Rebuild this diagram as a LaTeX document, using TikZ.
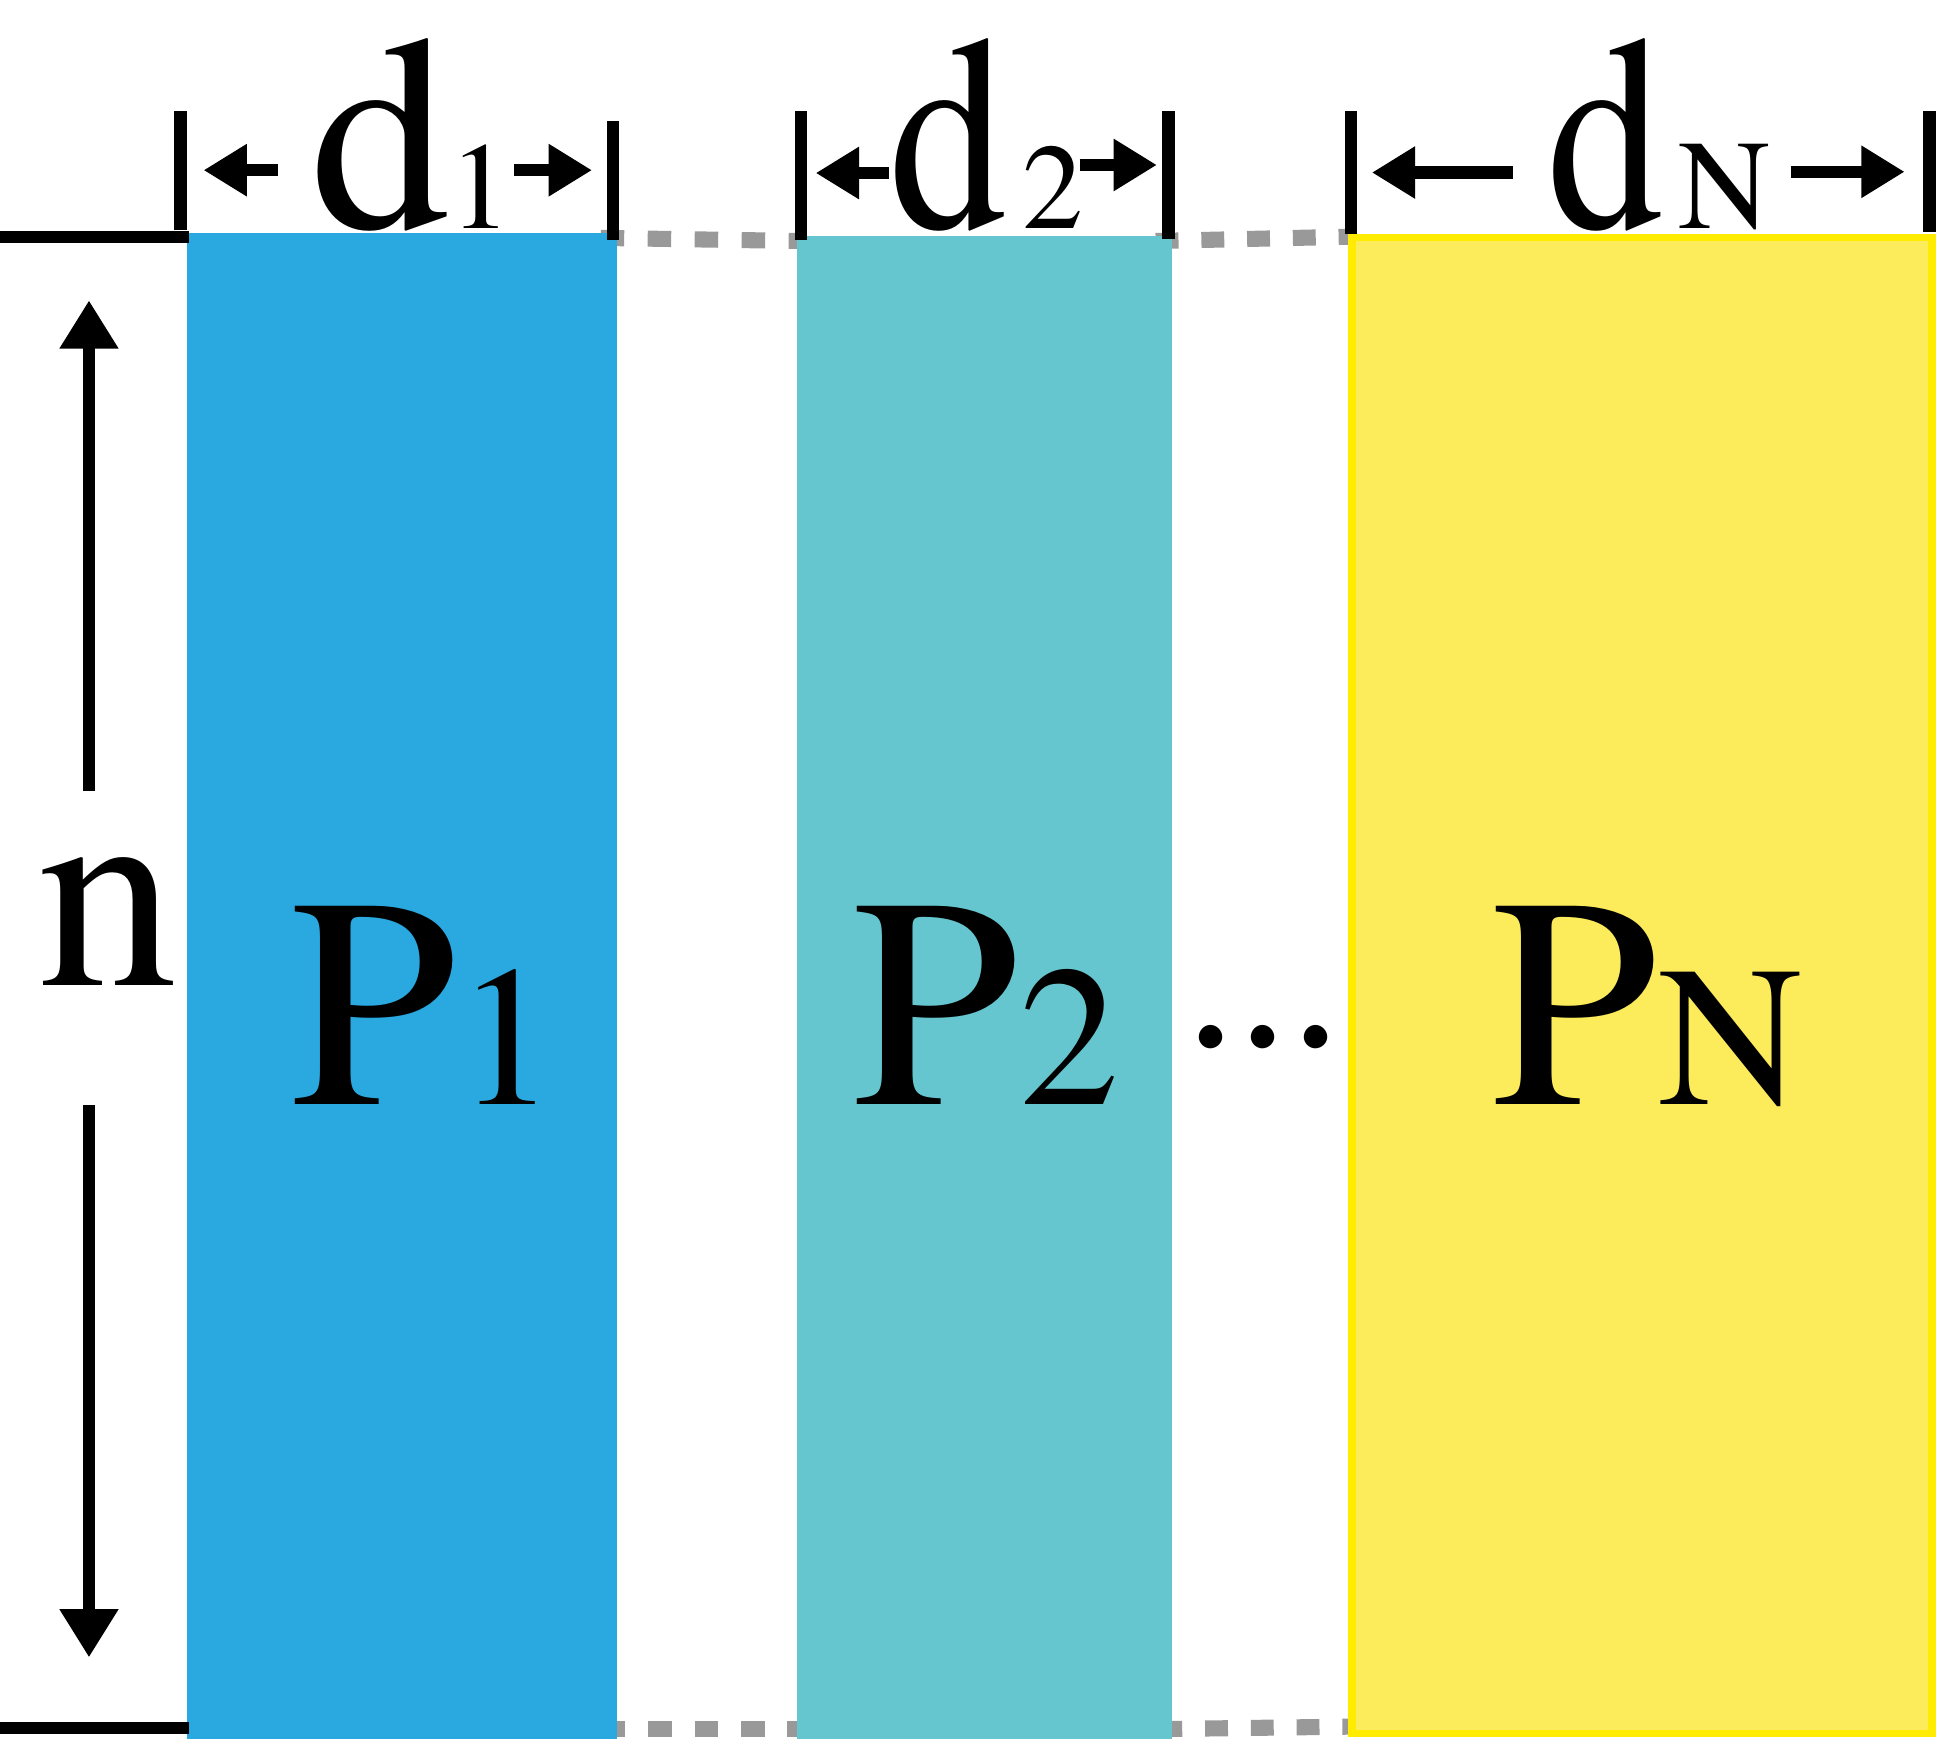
\documentclass[tikz,border=0pt]{standalone}
\usepackage{fontspec}
\usepackage{graphicx}
\setmainfont{texgyretermes-regular.otf}
\usetikzlibrary{arrows.meta}
\definecolor{pblue}{RGB}{41,169,224}
\definecolor{pteal}{RGB}{102,198,208}
\definecolor{pyellow}{RGB}{252,236,92}
\definecolor{pyedge}{RGB}{255,236,0}
\definecolor{dgray}{RGB}{153,153,153}
\newcommand\fsD{\fontsize{64pt}{64pt}\selectfont}
\newcommand\fsP{\fontsize{68.9pt}{68.9pt}\selectfont}
\newcommand\fsPs{\fontsize{46pt}{46pt}\selectfont}
\begin{document}
\begin{tikzpicture}[x=0.01cm,y=-0.01cm,
  lbl/.style={anchor=base west,inner sep=0pt,outer sep=0pt},
  tickline/.style={line width=0.1cm},
  dimarrow/.style={line width=0.1cm,-{Triangle[length=0.35cm,width=0.40cm]}},
  varrow/.style={line width=0.1cm,-{Triangle[length=0.39cm,width=0.45cm]}},
  guide/.style={dgray,line width=0.13cm,dash pattern=on 0.19cm off 0.19cm},
  edgeline/.style={line width=0.095cm},
  colbox/.style={anchor=north west,inner sep=0pt,outer sep=0pt}]
\useasboundingbox (0,0) rectangle (1568,1407);

% gray dashed guides
\coordinate (ga1) at (486,192.5); \coordinate (ga2) at (648,195);
\coordinate (gb1) at (935,195);   \coordinate (gb2) at (1093,191.5);
\coordinate (gc1) at (487,1399);  \coordinate (gc2) at (648,1399);
\coordinate (gd1) at (938,1399);  \coordinate (gd2) at (1093,1397);
\draw[guide] (ga1) -- (ga2);
\draw[guide,dash pattern=on 0.185cm off 0.185cm] (gb1) -- (gb2);
\draw[guide,dash pattern=on 0.19cm off 0.185cm] (gc1) -- (gc2);
\draw[guide,dash pattern=on 0.185cm off 0.185cm] (gd1) -- (gd2);

% boxes
\node[colbox,fill=pblue,minimum width=3.48cm,minimum height=12.185cm] (box1) at (151,188.5) {};
\node[colbox,fill=pteal,minimum width=3.03cm,minimum height=12.163cm] (box2) at (645,190.7) {};
\node[colbox,fill=pyellow,draw=pyedge,line width=0.06cm,minimum width=4.69cm,minimum height=12.10cm] (boxN) at (1094,192) {};

% black horizontal lines on the left
\coordinate (tl0) at (0,192); \coordinate (tl1) at (153,192);
\coordinate (bl0) at (0,1398); \coordinate (bl1) at (153,1398);
\draw[edgeline] (tl0) -- (tl1);
\draw[edgeline] (bl0) -- (bl1);

% ticks
\coordinate (k1a) at (146,90);   \coordinate (k1b) at (146,186);
\coordinate (k2a) at (496,98);   \coordinate (k2b) at (496,194);
\coordinate (k3a) at (648,90);   \coordinate (k3b) at (648,194);
\coordinate (k4a) at (945.5,90); \coordinate (k4b) at (945.5,193);
\coordinate (k5a) at (1093,90);  \coordinate (k5b) at (1093,189);
\coordinate (k6a) at (1561,90);  \coordinate (k6b) at (1561,188);
\foreach \k in {1,...,6} {\draw[tickline] (k\k a) -- (k\k b);}

% dimension arrows
\coordinate (a1s) at (225,137.7);  \coordinate (a1e) at (164.7,137.7);
\coordinate (a2s) at (416,137.7);  \coordinate (a2e) at (479,137.7);
\coordinate (a3s) at (719,140);    \coordinate (a3e) at (660,140);
\coordinate (a4s) at (873.5,133.5);\coordinate (a4e) at (936,133.5);
\coordinate (a5s) at (1224,139.6); \coordinate (a5e) at (1110,139.6);
\coordinate (a6s) at (1449,139);   \coordinate (a6e) at (1541,139);
\foreach \k in {1,...,6} {\draw[dimarrow] (a\k s) -- (a\k e);}

% vertical n arrows
\coordinate (v1s) at (72,640);  \coordinate (v1e) at (72,243);
\coordinate (v2s) at (72,894);  \coordinate (v2e) at (72,1341);
\draw[varrow] (v1s) -- (v1e);
\draw[varrow] (v2s) -- (v2e);

% dimension labels
\node[lbl] (d1) at (251,185) {{\fsD d}{\fontsize{28.5pt}{28.5pt}\selectfont 1}};
\node[lbl] (d2) at (720,185) {{\fsD\scalebox{0.84}[1]{d}}\kern3.56pt{\fontsize{28pt}{28pt}\selectfont 2}};
\node[lbl] (dN) at (1252,185) {{\fsD\scalebox{0.83}[1]{d}}\kern3.7pt{\fontsize{29.3pt}{29.3pt}\selectfont N}};

% box labels
\node[lbl] (l1) at (235,893.5) {{\fsP P}{\fsPs 1}};
\node[lbl] (l2) at (690,893.5) {{\fsP P}{\fsPs 2}};
\node[lbl] (lN) at (1207,893.5) {{\fsP P}{\fsPs N}};

% n and dots
\node[lbl] (nlab) at (31.4,797) {\fsD n};
\node[lbl] (dots) at (958,847) {\fontsize{48.6pt}{48.6pt}\selectfont ...};
\end{tikzpicture}
\end{document}
